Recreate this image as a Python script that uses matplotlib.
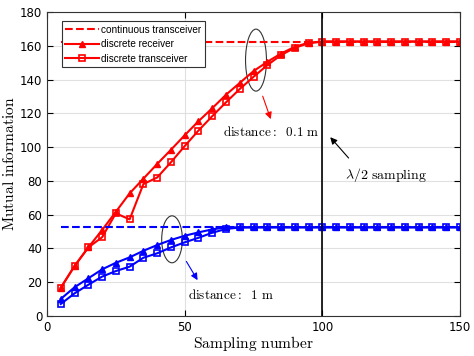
import matplotlib.pyplot as plt
from matplotlib.patches import Ellipse

# sampling numbers 5, 10, ..., 150
sampling = [5, 10, 15, 20, 25, 30, 35, 40, 45, 50, 55, 60, 65, 70, 75,
            80, 85, 90, 95, 100, 105, 110, 115, 120, 125, 130, 135, 140, 145, 150]

# distance 0.1 m
rx_near = [16.7, 29.6, 40.6, 50.9, 61.7, 72.6, 81.3, 90.0, 98.4, 107.0,
           115.3, 123.0, 131.0, 138.0, 145.0, 150.5, 155.4, 159.4, 161.8, 162.5,
           162.5, 162.5, 162.5, 162.5, 162.5, 162.5, 162.5, 162.5, 162.5, 162.5]
trx_near = [16.7, 29.6, 40.6, 46.6, 60.8, 57.2, 78.1, 82.0, 91.0, 100.6,
            109.8, 118.3, 126.5, 134.4, 141.6, 148.5, 154.5, 158.8, 161.5, 162.5,
            162.5, 162.5, 162.5, 162.5, 162.5, 162.5, 162.5, 162.5, 162.5, 162.5]
cont_near = 162.5

# distance 1 m
rx_far = [10.1, 17.0, 22.3, 27.6, 31.5, 34.7, 38.6, 42.0, 45.0, 47.5,
          49.5, 51.3, 52.4, 52.5, 52.5, 52.5, 52.5, 52.5, 52.5, 52.5,
          52.5, 52.5, 52.5, 52.5, 52.5, 52.5, 52.5, 52.5, 52.5, 52.5]
trx_far = [7.1, 13.4, 18.5, 23.3, 26.6, 29.2, 34.5, 37.1, 40.6, 43.6,
           46.3, 49.3, 51.5, 52.4, 52.5, 52.5, 52.5, 52.5, 52.5, 52.5,
           52.5, 52.5, 52.5, 52.5, 52.5, 52.5, 52.5, 52.5, 52.5, 52.5]
cont_far = 52.5

plt.rcParams['mathtext.fontset'] = 'cm'

fig = plt.figure(figsize=(4.74, 3.56), dpi=100)
ax = fig.add_axes([0.0992, 0.1124, 0.8713, 0.8539])

lw = 1.5
# red (0.1 m)
ax.plot([sampling[0], sampling[-1]], [cont_near, cont_near], '--', color='red', lw=lw,
        label='continuous transceiver')
ax.plot(sampling, rx_near, '-^', color='red', lw=lw, ms=5, label='discrete receiver')
ax.plot(sampling, trx_near, '-s', color='red', lw=lw, ms=4.5, mfc='none', mew=1.2,
        label='discrete transceiver')
# blue (1 m)
ax.plot([sampling[0], sampling[-1]], [cont_far, cont_far], '--', color='blue', lw=lw)
ax.plot(sampling, rx_far, '-^', color='blue', lw=lw, ms=5)
ax.plot(sampling, trx_far, '-s', color='blue', lw=lw, ms=4.5, mfc='none', mew=1.2)

# lambda/2 sampling line
ax.axvline(100, color='black', lw=1.2)

# annotations
ax.add_patch(Ellipse((75.9, 151.5), 7.6, 36.7, fill=False, edgecolor='#333333', lw=0.8))
ax.add_patch(Ellipse((45.4, 45.4), 7.5, 27.8, fill=False, edgecolor='#333333', lw=0.8))
ax.annotate('', xy=(81.6, 115), xytext=(78, 131.7),
            arrowprops=dict(arrowstyle='-|>', color='red', lw=0.8))
ax.annotate('', xy=(55.2, 19.8), xytext=(50.1, 33.7),
            arrowprops=dict(arrowstyle='-|>', color='blue', lw=0.8))
ax.annotate('', xy=(102.2, 107.1), xytext=(110.2, 92.3),
            arrowprops=dict(arrowstyle='-|>', color='black', lw=0.8))
ax.text(81.5, 109, r'$\mathrm{distance{:}\ \ 0.1\ m}$', ha='center', va='center', fontsize=9.5)
ax.text(66.8, 12.4, r'$\mathrm{distance{:}\ \ 1\ m}$', ha='center', va='center', fontsize=9.5)
ax.text(123.1, 83.4, r'$\lambda/2\ \mathrm{sampling}$', ha='center', va='center', fontsize=10)

ax.set_xlim(0, 150)
ax.set_ylim(0, 180)
ax.set_xticks([0, 50, 100, 150])
ax.set_yticks(range(0, 181, 20))
ax.tick_params(direction='in', top=True, right=True, labelsize=8.5, length=4)
ax.grid(True, color='#e0e0e0', lw=0.8)
ax.set_axisbelow(True)
for s in ax.spines.values():
    s.set_linewidth(0.8)
    s.set_color('#333333')

ax.set_xlabel(r'$\mathrm{Sampling\ number}$', fontsize=11.2, labelpad=0)
ax.set_ylabel(r'$\mathrm{Mutual\ information}$', fontsize=11.2)
ax.yaxis.set_label_coords(-0.072, 0.5)

leg = ax.legend(loc='upper left', bbox_to_anchor=(0.036, 0.970),
                prop={'family': 'Liberation Sans', 'size': 7.2},
                fancybox=False, framealpha=1, edgecolor='#333333',
                handlelength=3.4, borderpad=0.35, labelspacing=0.45, handletextpad=0.2,
                borderaxespad=0)
leg.get_frame().set_linewidth(0.8)

fig.savefig('out.png', dpi=100)
